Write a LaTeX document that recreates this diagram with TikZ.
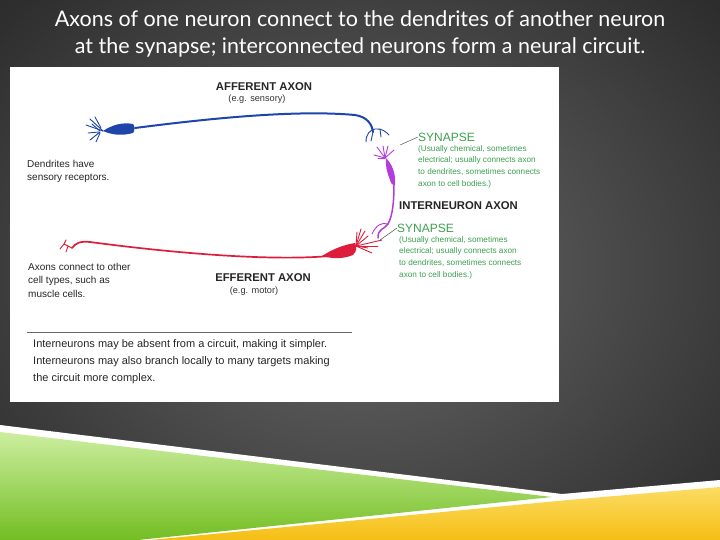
\documentclass[tikz,border=0pt]{standalone}
\usepackage{fontspec}
\setmainfont{Liberation Sans}
\newfontfamily\titlefont{Lato}
\definecolor{bgin}{RGB}{105,105,105}
\definecolor{bgout}{RGB}{45,45,45}
\definecolor{grtop}{RGB}{205,238,160}
\definecolor{grbot}{RGB}{115,190,35}
\definecolor{yetop}{RGB}{252,220,100}
\definecolor{yebot}{RGB}{245,190,20}
\definecolor{nblue}{RGB}{30,70,170}
\definecolor{nred}{RGB}{220,30,60}
\definecolor{npur}{RGB}{180,60,220}
\definecolor{syngreen}{RGB}{60,160,80}
\begin{document}
\begin{tikzpicture}[x=1pt,y=-1pt,
  lab/.style={font=\fontsize{11.3}{12}\selectfont\bfseries, inner sep=0pt, text=black!85},
  sub/.style={font=\fontsize{9.2}{10}\selectfont, inner sep=0pt, text=black!80},
  note/.style={font=\fontsize{10}{13.5}\selectfont, inner sep=0pt, align=left, anchor=north west, text=black!85},
  syn/.style={font=\fontsize{12}{13}\selectfont, inner sep=0pt, text=syngreen, anchor=west},
  synsub/.style={font=\fontsize{8.2}{11.7}\selectfont, inner sep=0pt, align=left, anchor=north west, text=syngreen},
  blueax/.style={draw=nblue, line width=2pt, line cap=round},
  bluethin/.style={draw=nblue, line width=0.9pt, line cap=round},
  redax/.style={draw=nred, line width=1.7pt, line cap=round},
  redthin/.style={draw=nred, line width=0.9pt, line cap=round},
  purax/.style={draw=npur, line width=1.5pt, line cap=round},
  purthin/.style={draw=npur, line width=0.9pt, line cap=round}]
\useasboundingbox (0,0) rectangle (720,540);
% background
\shade[inner color=bgin, outer color=bgout] (-120,-120) rectangle (840,660);
% bottom bands
\fill[white] (0,425) -- (562,494) -- (720,480) -- (720,540) -- (0,540) -- cycle;
\shade[top color=grtop, bottom color=grbot] (0,432) -- (552,497) -- (138,540) -- (0,540) -- cycle;
\shade[top color=yetop, bottom color=yebot] (150,540) -- (568,500) -- (720,487) -- (720,540) -- cycle;
% title
\node[font=\titlefont\fontsize{21.5}{27}\selectfont, text=white, align=center] (title) at (360,34)
  {Axons of one neuron connect to the dendrites of another neuron\\at the synapse; interconnected neurons form a neural circuit.};
% white panel
\fill[white] (10,67) rectangle (559,402);
% afferent (blue) neuron
\draw[blueax] (135,128) .. controls (220,117) and (300,110) .. (355,115) .. controls (368,117) and (372,125) .. (373,132);
\fill[nblue] (103,131) .. controls (112,125) and (122,122) .. (133,124) .. controls (135,127) and (135,130) .. (133,133) .. controls (122,136) and (112,135) .. (103,131) -- cycle;
\foreach \a/\b in {{(90,119)}/{(103,131)},{(86,125)}/{(103,131)},{(92,124)}/{(100,131)},{(95,117)}/{(101,128)},{(90,140)}/{(100,132)},{(96,142)}/{(100,133)},{(88,133)}/{(99,132)}}
  \draw[bluethin] \a -- \b;
\draw[bluethin] (366,142) .. controls (366,134) and (370,130) .. (375,129) .. controls (382,128) and (386,132) .. (389,135);
\draw[bluethin] (373,132) -- (371,141); \draw[bluethin] (380,129) -- (381,137);
% interneuron (purple)
\fill[npur] (386,158) .. controls (391,163) and (396,172) .. (395,184) .. controls (393,186) and (391,184) .. (390,180) .. controls (387,172) and (385,165) .. (386,158) -- cycle;
\foreach \a in {(374,155),(377,147),(383,146),(388,146),(394,150),(378,158)}
  \draw[purthin] \a -- (385,158);
\draw[purax] (394,184) .. controls (394,200) and (393,215) .. (388,224) .. controls (384,230) and (378,228) .. (378,238);
\draw[purthin] (388,224) .. controls (382,222) and (376,225) .. (372,234);
% efferent (red) neuron
\draw[redax] (330,256) .. controls (260,262) and (150,250) .. (90,242) .. controls (80,241) and (76,243) .. (72,248);
\fill[nred] (322,256) .. controls (333,249) and (343,245) .. (355,243) .. controls (357,247) and (357,251) .. (353,255) .. controls (343,259) and (333,259) .. (322,256) -- cycle;
\foreach \a in {(357,232),(361,229),(365,231),(368,248),(372,253),(378,246),(382,240),(368,236)}
  \draw[redthin] \a -- (356,246);
\draw[redthin] (72,248) -- (64,244) (68,246) -- (66,252) (64,244) -- (60,249) (64,244) -- (66,240);
% labels
\node[lab] (aff) at (264,87) {AFFERENT AXON};
\node[sub] (affs) at (257,99) {(e.g. sensory)};
\node[note] (dend) at (27,160) {Dendrites have\\sensory receptors.};
\node[syn] (syn1) at (418,137) {SYNAPSE};
\node[synsub] (syn1s) at (418,145) {(Usually chemical, sometimes\\electrical; usually connects axon\\to dendrites, sometimes connects\\axon to cell bodies.)};
\draw[black!70, line width=0.5pt] (400,145) -- (syn1.west);
\node[lab, anchor=west] (inter) at (399,206) {INTERNEURON AXON};
\node[syn] (syn2) at (397,228) {SYNAPSE};
\node[synsub] (syn2s) at (399,236) {(Usually chemical, sometimes\\electrical; usually connects axon\\to dendrites, sometimes connects\\axon to cell bodies.)};
\draw[black!70, line width=0.5pt] (380,240) -- (syn2.west);
\node[note] (axc) at (28,263) {Axons connect to other\\cell types, such as\\muscle cells.};
\node[lab] (eff) at (263,278) {EFFERENT AXON};
\node[sub] (effs) at (254,291) {(e.g. motor)};
\draw[black!60, line width=0.5pt] (27,332) -- (352,332);
\node[note, font=\fontsize{11}{17}\selectfont] (bot) at (33,339) {Interneurons may be absent from a circuit, making it simpler.\\Interneurons may also branch locally to many targets making\\the circuit more complex.};
\end{tikzpicture}
\end{document}
